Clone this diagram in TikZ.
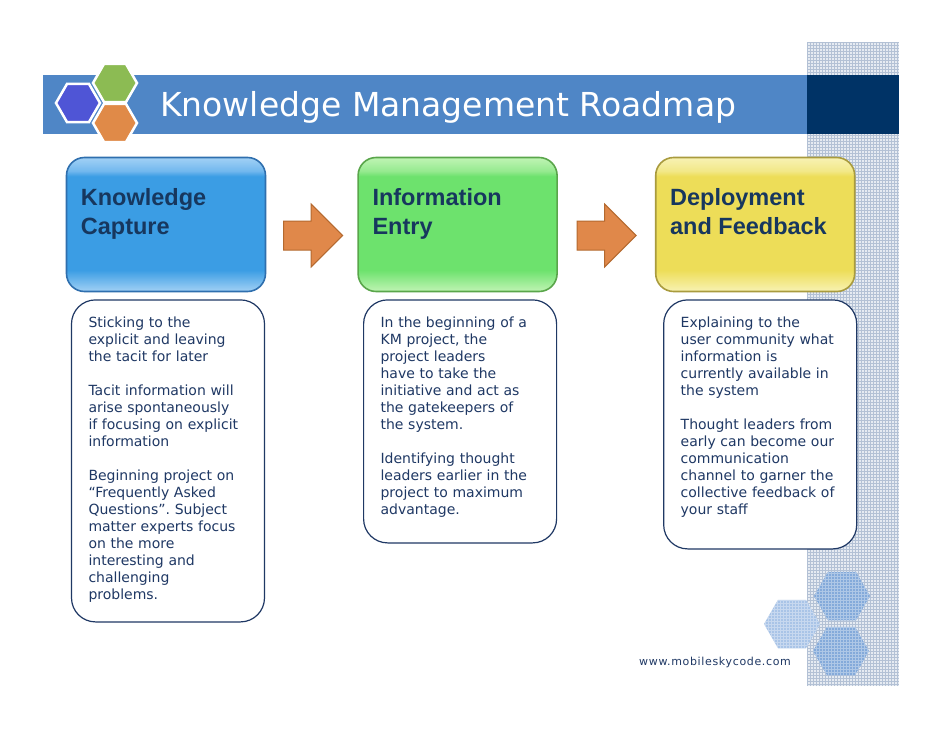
\documentclass[tikz,border=0pt]{standalone}
\usepackage{fontspec}
\setmainfont{DejaVu Sans}
\newfontfamily\headfont{Liberation Sans}
\newfontfamily\urlfont[LetterSpace=6]{DejaVu Sans}
\usepackage{tikz}
\usetikzlibrary{positioning, shapes.arrows, calc}
\frenchspacing

\definecolor{titleblue}{HTML}{4F86C6}
\definecolor{navybar}{HTML}{003366}
\definecolor{gridbg}{HTML}{E6EBF2}
\definecolor{gridline}{HTML}{B3C1D5}
\definecolor{textnavy}{HTML}{1F3864}
\definecolor{headnavy}{HTML}{17375E}
\definecolor{hexblue}{HTML}{4F55D6}
\definecolor{hexgreen}{HTML}{8CBB53}
\definecolor{hexorange}{HTML}{E08A48}
\definecolor{hexdark}{HTML}{84AADA}
\definecolor{hexlight}{HTML}{A9C4E7}
\definecolor{arrowfill}{HTML}{E0884A}
\definecolor{arrowdraw}{HTML}{B4692F}
\definecolor{kcmain}{HTML}{3B9DE4}
\definecolor{kcmid}{HTML}{72B8EE}
\definecolor{kclight}{HTML}{A2D1F5}
\definecolor{kcborder}{HTML}{2F6FAE}
\definecolor{iemain}{HTML}{6DE26D}
\definecolor{iemid}{HTML}{96EA90}
\definecolor{ielight}{HTML}{C0F4B4}
\definecolor{ieborder}{HTML}{5AA64B}
\definecolor{edmain}{HTML}{EDDD58}
\definecolor{edmid}{HTML}{F2E888}
\definecolor{edlight}{HTML}{F8F2B4}
\definecolor{edborder}{HTML}{A99B3E}

\pgfdeclareverticalshading{kcshade}{100bp}{color(0bp)=(kclight); color(25bp)=(kclight); color(33bp)=(kcmain); color(68bp)=(kcmain); color(70bp)=(kcmid); color(75bp)=(kclight); color(100bp)=(kclight)}
\pgfdeclareverticalshading{ieshade}{100bp}{color(0bp)=(ielight); color(25bp)=(ielight); color(33bp)=(iemain); color(68bp)=(iemain); color(70bp)=(iemid); color(75bp)=(ielight); color(100bp)=(ielight)}
\pgfdeclareverticalshading{edshade}{100bp}{color(0bp)=(edlight); color(25bp)=(edlight); color(33bp)=(edmain); color(68bp)=(edmain); color(70bp)=(edmid); color(75bp)=(edlight); color(100bp)=(edlight)}

\begin{document}
\begin{tikzpicture}[
        x=1pt, y=-1pt,
        hdr/.style={rectangle, rounded corners=18pt, minimum width=199pt, minimum height=134pt, line width=1.6pt, inner sep=0pt, shade},
        hdrtext/.style={anchor=north west, inner sep=0pt, align=left, text=headnavy, font=\headfont\bfseries\fontsize{23.5}{29}\selectfont},
        note/.style={rectangle, rounded corners=24pt, draw=textnavy, line width=1.2pt, fill=white, text width=159pt, align=left, inner xsep=17pt, inner ysep=17.5pt, text height=10.5pt, text=textnavy, font=\fontsize{14}{17}\selectfont},
        flowarrow/.style={single arrow, single arrow head extend=17pt, fill=arrowfill, draw=arrowdraw, line width=1pt, minimum height=59pt, inner xsep=0pt, inner ysep=14pt, text height=0pt, text depth=0pt},
        hexcell/.style={draw=white, line width=2.5pt},
    ]
        \useasboundingbox (0,0) rectangle (942,728);
        \fill[white] (0,0) rectangle (942,728);

        % Grid strip
        \fill[gridbg] (807,42) rectangle (899,686);
        \draw[gridline, line width=0.4pt, step=3pt] (807,686) grid (899,42);

        % Title bar
        \fill[titleblue] (43,75) rectangle (807,134);
        \fill[navybar] (807,75) rectangle (899,134);
        \foreach \hx/\hy/\hc in {78/103/hexblue, 115/83/hexgreen, 115/123/hexorange}
            \filldraw[hexcell, fill=\hc] (\hx,\hy) +(0:22) -- +(60:22) -- +(120:22) -- +(180:22) -- +(240:22) -- +(300:22) -- cycle;
        \node[anchor=base west, inner sep=0pt, text=white, font=\fontsize{33}{40}\selectfont] (title) at (160,116) {Knowledge Management Roadmap};

        % Corner hexagons
        \foreach \hx/\hy/\hc in {842/596/hexdark, 792/624/hexlight, 841/651/hexdark} {
            \begin{scope}
                \clip (\hx,\hy) +(0:28) -- +(60:28) -- +(120:28) -- +(180:28) -- +(240:28) -- +(300:28) -- cycle;
                \fill[\hc] (\hx-30,\hy-30) rectangle (\hx+30,\hy+30);
                \draw[white, opacity=0.35, line width=0.4pt, step=3pt] (\hx-30,\hy+30) grid (\hx+30,\hy-30);
            \end{scope}
        }

        % Stages
        \node[hdr, shading=kcshade, draw=kcborder] (kc) at (166,224.5) {};
        \node[hdr, shading=ieshade, draw=ieborder, right=91pt of kc] (ie) {};
        \node[hdr, shading=edshade, draw=edborder, right=97pt of ie] (ed) {};

        \node[hdrtext] (kclabel) at ([shift={(15,32)}]kc.north west) {Knowledge\\Capture};
        \node[hdrtext] (ielabel) at ([shift={(15,32)}]ie.north west) {Information\\Entry};
        \node[hdrtext] (edlabel) at ([shift={(15,32)}]ed.north west) {Deployment\\and Feedback};

        % Arrows
        \node[flowarrow] (kcie) at ($(kc.east)!0.5!(ie.west)+(-6,11)$) {};
        \node[flowarrow] (ieed) at ($(ie.east)!0.5!(ed.west)+(-7,11)$) {};

        % Notes
        \node[note, below=7pt of kc, xshift=2pt, text depth=276.5pt] (kcnote) {Sticking to the\\explicit and leaving\\the tacit for later\\[17pt]
            Tacit information will\\arise spontaneously\\if focusing on explicit\\information\\[17pt]
            Beginning project on\\“Frequently Asked\\Questions”. Subject\\matter experts focus\\on the more\\interesting and\\challenging\\problems.};
        \node[note, below=7pt of ie, xshift=2.5pt, text depth=197.5pt] (ienote) {In the beginning of a\\KM project, the\\project leaders\\have to take the\\initiative and act as\\the gatekeepers of\\the system.\\[17pt]
            Identifying thought\\leaders earlier in the\\project to maximum\\advantage.};
        \node[note, below=7pt of ed, xshift=5pt, text depth=203.5pt] (ednote) {Explaining to the\\user community what\\information is\\currently available in\\the system\\[17pt]
            Thought leaders from\\early can become our\\communication\\channel to garner the\\collective feedback of\\your staff};

        % Footer
        \node[anchor=base west, inner sep=0pt, text=textnavy, font=\urlfont\fontsize{11}{13}\selectfont] (url) at (639,665) {www.mobileskycode.com};

    \end{tikzpicture}
\end{document}
